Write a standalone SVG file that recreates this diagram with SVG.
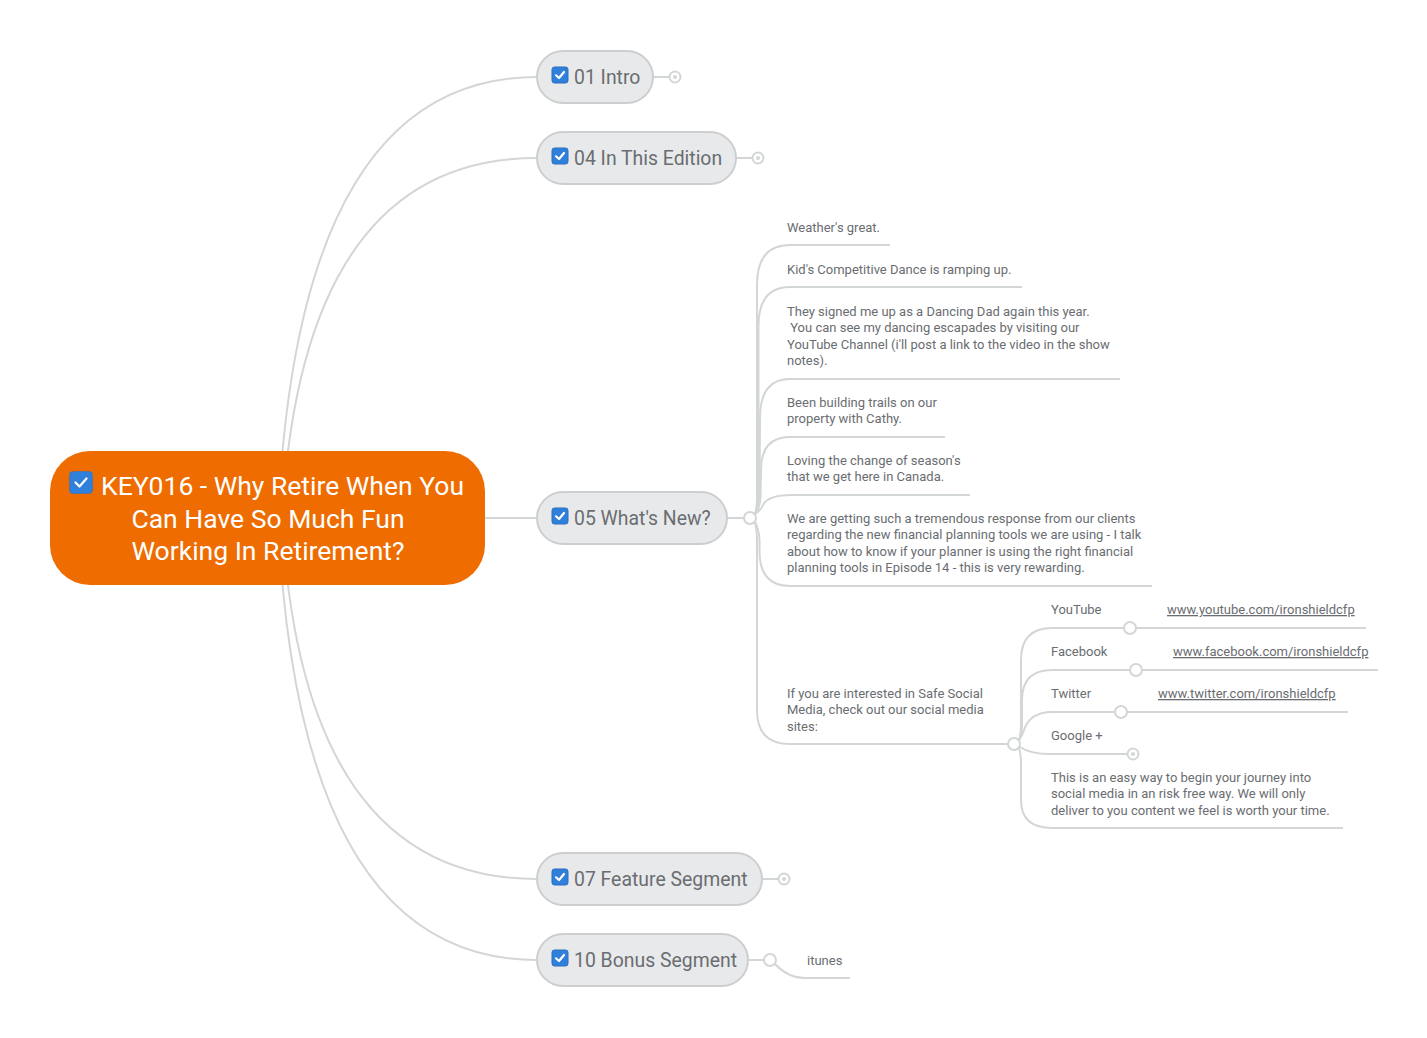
<svg xmlns="http://www.w3.org/2000/svg" width="1427" height="1038" viewBox="0 0 1427 1038">
<defs>
<style>
.conn{fill:none;stroke:#D3D6D7;stroke-width:2}
.topic{fill:#E8E9EB;stroke:#CDCECF;stroke-width:2}
.ttext{font-family:Roboto,"Liberation Sans",sans-serif;font-size:19.4px;fill:#6A6D71}
.rtext{font-family:Roboto,"Liberation Sans",sans-serif;font-size:26.5px;fill:#FFFFFF}
.stext{font-family:Roboto,"Liberation Sans",sans-serif;font-size:13px;fill:#6A6D71}
.link{text-decoration:underline}
.cb{fill:#2F7FDB;stroke:#2A6FBF;stroke-width:1}
.ck{fill:none;stroke:#FFFFFF;stroke-width:2.2;stroke-linecap:round;stroke-linejoin:round}
.knob{fill:#FFFFFF;stroke:#D3D6D7;stroke-width:2}
.dot{fill:#D3D6D7}
</style>
<g id="checkbox">
<rect class="cb" x="0" y="0" width="16" height="16" rx="2.5"/>
<path class="ck" d="M4 8.3 L7 11 L12 5"/>
</g>
</defs>
<rect width="1427" height="1038" fill="#FFFFFF"/>

<g id="connectors">
<path class="conn" d="M278 518 Q298 77 537 77"/>
<path class="conn" d="M282 518 Q302 158 537 158"/>
<path class="conn" d="M485 518 L537 518"/>
<path class="conn" d="M282 518 Q302 879 537 879"/>
<path class="conn" d="M278 518 Q298 960 537 960"/>
<path class="conn" d="M653 77 L670 77"/>
<path class="conn" d="M736 158 L753 158"/>
<path class="conn" d="M727 518 L744 518"/>
<path class="conn" d="M762 879 L779 879"/>
<path class="conn" d="M748 960 L764 960"/>
<path class="conn" d="M775 964 Q788 978 805 978 L850 978"/>
<path class="conn" d="M755 514 Q757 508 757 498 L757 285 Q757 245 790 245 L890 245"/>
<path class="conn" d="M755 514 Q758 508 758.5 498 L758.5 325 Q759 287 790 287 L1022 287"/>
<path class="conn" d="M755 514 Q759 508 759.5 498 L760 418 Q760 379 790 379 L1120 379"/>
<path class="conn" d="M755 514 Q760 508 760.5 498 L761 470 Q761 437 790 437 L945 437"/>
<path class="conn" d="M755 514 Q761 510 763 505 Q768 495 792 495 L970 495"/>
<path class="conn" d="M755 522 Q759 530 759.5 540 L759.5 550 Q759 586 790 586 L1152 586"/>
<path class="conn" d="M755 522 Q757 530 757 540 L757 710 Q757 744 790 744 L1008 744"/>
<path class="conn" d="M1019 740 Q1021 734 1021 724 L1021 660 Q1021 628 1052 628 L1366 628"/>
<path class="conn" d="M1019 740 Q1022 734 1022 724 L1022 700 Q1022 670 1052 670 L1378 670"/>
<path class="conn" d="M1019 740 Q1023 734 1024 730 Q1030 712 1052 712 L1348 712"/>
<path class="conn" d="M1020 747 Q1030 754 1050 754 L1127 754"/>
<path class="conn" d="M1019 748 Q1021 754 1021 764 L1021 800 Q1021 828 1052 828 L1343 828"/>
<circle class="knob" cx="675" cy="77" r="5.5"/><circle class="dot" cx="675" cy="77" r="2"/>
<circle class="knob" cx="758" cy="158" r="5.5"/><circle class="dot" cx="758" cy="158" r="2"/>
<circle class="knob" cx="750" cy="518" r="6"/>
<circle class="knob" cx="784" cy="879" r="5.5"/><circle class="dot" cx="784" cy="879" r="2"/>
<circle class="knob" cx="770" cy="960" r="6"/>
<circle class="knob" cx="1014" cy="744" r="6"/>
<circle class="knob" cx="1130" cy="628" r="6"/>
<circle class="knob" cx="1136" cy="670" r="6"/>
<circle class="knob" cx="1121" cy="712" r="6"/>
<circle class="knob" cx="1133" cy="754" r="5.5"/><circle class="dot" cx="1133" cy="754" r="2"/>
</g>

<g id="root">
<rect x="50" y="451" width="435" height="134" rx="40" fill="#EE6C00"/>
<rect class="cb" x="69.5" y="471.5" width="23" height="22" rx="3.5" stroke="#FFFFFF" stroke-opacity="0.5"/>
<path class="ck" d="M75.5 482.5 L79.5 486.5 L86.5 478.5" stroke-width="2.6"/>
<text class="rtext" x="101" y="495">KEY016 - Why Retire When You</text>
<text class="rtext" x="268" y="528" text-anchor="middle">Can Have So Much Fun</text>
<text class="rtext" x="268" y="560" text-anchor="middle">Working In Retirement?</text>
</g>

<g id="t01">
<rect class="topic" x="537" y="51" width="116" height="52" rx="26"/>
<use href="#checkbox" x="552" y="67"/>
<text class="ttext" x="574" y="84">01 Intro</text>
</g>
<g id="t04">
<rect class="topic" x="537" y="132" width="199" height="52" rx="26"/>
<use href="#checkbox" x="552" y="148"/>
<text class="ttext" x="574" y="165">04 In This Edition</text>
</g>
<g id="t05">
<rect class="topic" x="537" y="492" width="190" height="52" rx="26"/>
<use href="#checkbox" x="552" y="508"/>
<text class="ttext" x="574" y="525">05 What's New?</text>
</g>
<g id="t07">
<rect class="topic" x="537" y="853" width="225" height="52" rx="26"/>
<use href="#checkbox" x="552" y="869"/>
<text class="ttext" x="574" y="886">07 Feature Segment</text>
</g>
<g id="t10">
<rect class="topic" x="537" y="934" width="211" height="52" rx="26"/>
<use href="#checkbox" x="552" y="950"/>
<text class="ttext" x="574" y="967">10 Bonus Segment</text>
</g>

<g id="s-weather"><text class="stext" x="787" y="232">Weather's great.</text></g>
<g id="s-kids"><text class="stext" x="787" y="274">Kid's Competitive Dance is ramping up.</text></g>
<g id="s-dad"><text class="stext" x="787" y="316">They signed me up as a Dancing Dad again this year.<tspan x="787" dy="16.3"> You can see my dancing escapades by visiting our</tspan><tspan x="787" dy="16.3">YouTube Channel (i'll post a link to the video in the show</tspan><tspan x="787" dy="16.3">notes).</tspan></text></g>
<g id="s-trails"><text class="stext" x="787" y="407">Been building trails on our<tspan x="787" dy="16.3">property with Cathy.</tspan></text></g>
<g id="s-season"><text class="stext" x="787" y="465">Loving the change of season's<tspan x="787" dy="16.3">that we get here in Canada.</tspan></text></g>
<g id="s-response"><text class="stext" x="787" y="523">We are getting such a tremendous response from our clients<tspan x="787" dy="16.3">regarding the new financial planning tools we are using - I talk</tspan><tspan x="787" dy="16.3">about how to know if your planner is using the right financial</tspan><tspan x="787" dy="16.3">planning tools in Episode 14 - this is very rewarding.</tspan></text></g>
<g id="s-social"><text class="stext" x="787" y="698">If you are interested in Safe Social<tspan x="787" dy="16.3">Media, check out our social media</tspan><tspan x="787" dy="16.3">sites:</tspan></text></g>
<g id="s-youtube"><text class="stext" x="1051" y="614">YouTube</text></g>
<g id="l-youtube"><text class="stext link" x="1167" y="614">www.youtube.com/ironshieldcfp</text></g>
<g id="s-facebook"><text class="stext" x="1051" y="656">Facebook</text></g>
<g id="l-facebook"><text class="stext link" x="1173" y="656">www.facebook.com/ironshieldcfp</text></g>
<g id="s-twitter"><text class="stext" x="1051" y="698">Twitter</text></g>
<g id="l-twitter"><text class="stext link" x="1158" y="698">www.twitter.com/ironshieldcfp</text></g>
<g id="s-google"><text class="stext" x="1051" y="740">Google +</text></g>
<g id="s-easy"><text class="stext" x="1051" y="782">This is an easy way to begin your journey into<tspan x="1051" dy="16.3">social media in an risk free way.  We will only</tspan><tspan x="1051" dy="16.3">deliver to you content we feel is worth your time.</tspan></text></g>
<g id="s-itunes"><text class="stext" x="807" y="965">itunes</text></g>
</svg>
